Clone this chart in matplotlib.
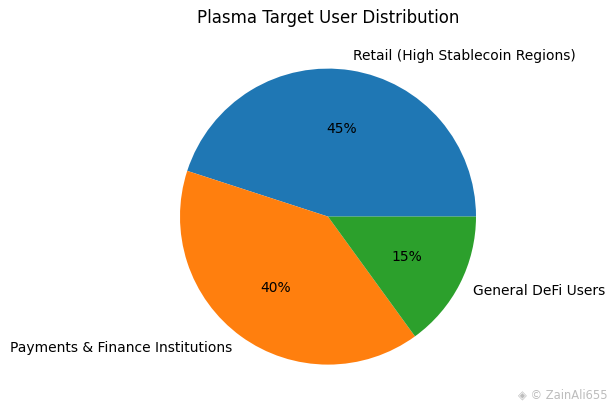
import matplotlib
matplotlib.use("Agg")
import matplotlib.pyplot as plt

labels = ["Retail (High Stablecoin Regions)", "Payments & Finance Institutions", "General DeFi Users"]
shares = [45, 40, 15]
title = "Plasma Target User Distribution"
watermark = "◈ © ZainAli655"

fig, ax = plt.subplots(figsize=(6.14, 4.11), dpi=100)
ax.pie(shares, labels=labels, autopct="%1.0f%%", textprops={"fontsize": 10})
# pie radius is 0.8 of the axes half-width, so 148px radius needs a 370px box
ax.set_position([143 / 614, 1 - 401.6 / 411, 370 / 614, 370 / 411])
ax.set_title(title, fontsize=12)

fig.text(0.989, 0.04, watermark, ha="right", va="center", fontsize=8.3, color="#bdbdbd")

fig.savefig("out.png", dpi=100)
